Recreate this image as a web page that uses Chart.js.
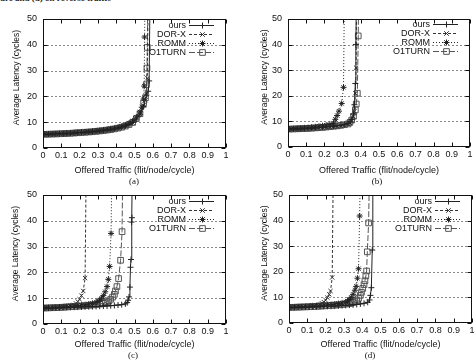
<!DOCTYPE html>
<html><head><meta charset="utf-8">
<script src="https://cdn.jsdelivr.net/npm/chart.js@4"></script>
<style>
html,body{margin:0;padding:0;background:#fff;width:474px;height:362px;overflow:hidden;position:relative}
.p{position:absolute;width:240px;height:181px}
.cap{position:absolute;font:9px 'Liberation Serif','DejaVu Serif',serif;color:#111;transform:translate(-50%,-50%);white-space:nowrap}
</style></head><body>
<div style="position:absolute;left:0;top:-7px;font:bold 9px 'Liberation Serif',serif;color:#222;white-space:nowrap">ure and (d) on reverse traffic</div>
<div class="p" style="left:0;top:0"><canvas id="ca"></canvas></div>
<div class="p" style="left:237px;top:0"><canvas id="cb"></canvas></div>
<div class="p" style="left:0;top:181px"><canvas id="cc"></canvas></div>
<div class="p" style="left:237px;top:181px"><canvas id="cd"></canvas></div>
<div class="cap" style="left:134px;top:181px">(a)</div>
<div class="cap" style="left:377px;top:181px">(b)</div>
<div class="cap" style="left:133px;top:355px">(c)</div>
<div class="cap" style="left:370px;top:355px">(d)</div>
<script>
const seriesNames = ['ours', 'DOR-X', 'ROMM', 'O1TURN'];
const xTickLabels = ['0','0.1','0.2','0.3','0.4','0.5','0.6','0.7','0.8','0.9','1'];
const yTickLabels = ['0','10','20','30','40','50'];
const xAxisTitle = 'Offered Traffic (flit/node/cycle)';
const yAxisTitle = 'Average Latency (cycles)';

// ---- panel (a)
const aOursX = [0.01,0.03,0.05,0.07,0.09,0.11,0.13,0.15,0.17,0.19,0.21,0.23,0.25,0.27,0.29,0.31,0.33,0.35,0.37,0.39,0.41,0.43,0.45,0.47,0.49,0.51,0.53,0.55,0.565,0.575,0.58,0.585];
const aOursY = [5.3,5.35,5.4,5.45,5.5,5.55,5.6,5.7,5.8,5.9,6.0,6.1,6.2,6.3,6.45,6.6,6.75,6.95,7.15,7.4,7.7,8.05,8.5,9.1,9.9,11.2,12.9,16.0,20.5,22.0,26.0,60];
const aDorX = [0.01,0.03,0.05,0.07,0.09,0.11,0.13,0.15,0.17,0.19,0.21,0.23,0.25,0.27,0.29,0.31,0.33,0.35,0.37,0.39,0.41,0.43,0.45,0.47,0.49,0.51,0.53,0.55,0.56,0.565,0.57,0.575];
const aDorY = [5.25,5.3,5.35,5.4,5.45,5.5,5.55,5.65,5.75,5.85,5.95,6.05,6.15,6.25,6.4,6.55,6.7,6.9,7.1,7.35,7.65,8.0,8.45,9.05,9.85,11.3,13.1,16.5,18.5,21.0,27.0,60];
const aRommX = [0.01,0.03,0.05,0.07,0.09,0.11,0.13,0.15,0.17,0.19,0.21,0.23,0.25,0.27,0.29,0.31,0.33,0.35,0.37,0.39,0.41,0.43,0.45,0.47,0.49,0.51,0.53,0.54,0.55,0.553,0.555,0.558];
const aRommY = [5.4,5.45,5.5,5.55,5.6,5.65,5.75,5.85,5.95,6.05,6.15,6.25,6.35,6.5,6.65,6.8,7.0,7.2,7.45,7.7,8.0,8.4,8.9,9.6,10.5,12.0,14.0,15.8,19.0,24.0,43.0,60];
const aO1X = [0.01,0.03,0.05,0.07,0.09,0.11,0.13,0.15,0.17,0.19,0.21,0.23,0.25,0.27,0.29,0.31,0.33,0.35,0.37,0.39,0.41,0.43,0.45,0.47,0.49,0.51,0.53,0.55,0.56,0.565,0.568,0.57,0.573];
const aO1Y = [5.3,5.35,5.4,5.45,5.5,5.55,5.65,5.7,5.8,5.9,6.0,6.1,6.2,6.3,6.45,6.6,6.75,6.95,7.15,7.4,7.7,8.05,8.5,9.1,9.9,11.4,13.3,17.5,19.5,24.5,31.0,39.0,60];

// ---- panel (b)
const bOursX = [0.01,0.03,0.05,0.07,0.09,0.11,0.13,0.15,0.17,0.19,0.21,0.23,0.25,0.27,0.29,0.31,0.33,0.34,0.35,0.36,0.365,0.37,0.373,0.376];
const bOursY = [7.0,7.05,7.1,7.15,7.2,7.3,7.4,7.5,7.6,7.7,7.85,8.0,8.15,8.3,8.5,8.8,9.2,9.8,10.8,12.8,16.5,24.8,40,60];
const bDorX = [0.01,0.03,0.05,0.07,0.09,0.11,0.13,0.15,0.17,0.19,0.21,0.23,0.25,0.27,0.29,0.31,0.33,0.34,0.35,0.36,0.365,0.37,0.374,0.377];
const bDorY = [6.9,6.95,7.0,7.05,7.1,7.2,7.3,7.4,7.5,7.6,7.7,7.8,7.95,8.1,8.3,8.55,8.9,9.4,10.2,11.8,14.0,21.0,31.0,60];
const bRommX = [0.01,0.03,0.05,0.07,0.09,0.11,0.13,0.15,0.17,0.19,0.21,0.23,0.25,0.26,0.27,0.28,0.295,0.305,0.31];
const bRommY = [7.1,7.2,7.3,7.4,7.5,7.6,7.75,7.9,8.1,8.3,8.55,8.85,9.3,10.8,12.3,14.0,17.0,23.3,60];
const bO1X = [0.01,0.03,0.05,0.07,0.09,0.11,0.13,0.15,0.17,0.19,0.21,0.23,0.25,0.27,0.29,0.31,0.33,0.34,0.35,0.36,0.37,0.375,0.381,0.386,0.388];
const bO1Y = [7.0,7.05,7.1,7.15,7.2,7.25,7.35,7.45,7.55,7.65,7.8,7.95,8.1,8.25,8.45,8.7,9.0,9.6,10.5,12.0,14.5,16.8,21.0,43.4,60];

// ---- panel (c)
const cOursX = [0.01,0.03,0.05,0.07,0.09,0.11,0.13,0.15,0.17,0.19,0.21,0.23,0.25,0.27,0.29,0.31,0.33,0.35,0.37,0.39,0.41,0.43,0.45,0.46,0.465,0.47,0.475,0.478,0.481,0.484,0.486,0.488];
const cOursY = [6.1,6.15,6.2,6.25,6.3,6.35,6.4,6.45,6.5,6.55,6.6,6.65,6.7,6.75,6.8,6.9,6.95,7.0,7.1,7.2,7.35,7.5,7.8,8.3,9.2,10.5,14.3,22.0,25.0,39.5,41.2,60];
const cDorX = [0.01,0.03,0.05,0.07,0.09,0.11,0.13,0.15,0.17,0.18,0.19,0.2,0.21,0.22,0.23,0.236];
const cDorY = [6.2,6.3,6.4,6.5,6.6,6.75,6.9,7.1,7.4,8.0,8.7,9.6,11.0,12.8,17.8,60];
const cRommX = [0.01,0.03,0.05,0.07,0.09,0.11,0.13,0.15,0.17,0.19,0.21,0.23,0.25,0.27,0.29,0.30,0.31,0.32,0.33,0.34,0.35,0.357,0.364,0.372,0.376];
const cRommY = [6.3,6.4,6.45,6.5,6.6,6.7,6.8,6.9,7.0,7.15,7.3,7.5,7.75,8.0,8.4,8.8,9.3,10.0,11.0,12.5,14.5,17.3,22.3,35.1,60];
const cO1X = [0.01,0.03,0.05,0.07,0.09,0.11,0.13,0.15,0.17,0.19,0.21,0.23,0.25,0.27,0.29,0.31,0.33,0.34,0.35,0.36,0.37,0.38,0.39,0.396,0.404,0.413,0.424,0.432,0.436];
const cO1Y = [6.2,6.25,6.3,6.35,6.4,6.5,6.6,6.7,6.8,6.9,7.0,7.1,7.25,7.4,7.55,7.75,8.0,8.3,8.6,9.0,9.6,10.4,11.5,12.8,14.5,17.6,24.7,35.8,60];

// ---- panel (d)
const dOursX = [0.01,0.03,0.05,0.07,0.09,0.11,0.13,0.15,0.17,0.19,0.21,0.23,0.25,0.27,0.29,0.31,0.33,0.35,0.37,0.39,0.41,0.43,0.44,0.445,0.45,0.455,0.458];
const dOursY = [6.0,6.05,6.1,6.15,6.2,6.25,6.3,6.35,6.4,6.45,6.5,6.55,6.6,6.7,6.8,6.9,7.0,7.1,7.25,7.45,7.7,8.1,9.0,10.8,13.8,28.5,60];
const dDorX = [0.01,0.03,0.05,0.07,0.09,0.11,0.13,0.15,0.17,0.18,0.19,0.2,0.21,0.22,0.227,0.236,0.242];
const dDorY = [6.2,6.3,6.4,6.5,6.6,6.7,6.85,7.0,7.25,7.7,8.2,8.9,9.9,11.2,12.5,17.8,60];
const dRommX = [0.01,0.03,0.05,0.07,0.09,0.11,0.13,0.15,0.17,0.19,0.21,0.23,0.25,0.27,0.29,0.31,0.32,0.33,0.34,0.35,0.36,0.367,0.374,0.38,0.386,0.39];
const dRommY = [6.2,6.3,6.4,6.45,6.5,6.6,6.7,6.8,6.9,7.0,7.1,7.25,7.4,7.6,7.85,8.2,8.6,9.2,10.0,11.2,12.8,14.3,17.5,21.2,41.8,60];
const dO1X = [0.01,0.03,0.05,0.07,0.09,0.11,0.13,0.15,0.17,0.19,0.21,0.23,0.25,0.27,0.29,0.31,0.33,0.34,0.35,0.36,0.37,0.38,0.39,0.396,0.403,0.41,0.415,0.42,0.424,0.428,0.435,0.44];
const dO1Y = [6.1,6.15,6.2,6.25,6.3,6.35,6.4,6.5,6.6,6.7,6.8,6.9,7.0,7.1,7.25,7.4,7.6,7.8,8.1,8.5,9.0,9.7,10.8,12.0,13.5,15.0,16.5,18.4,20.3,27.8,39.1,60];

const FONT = "'Liberation Sans', Arial, sans-serif";
const INK = '#111';
const seriesStyle = [
  {color:'#222', dash:[], point:'cross', r:3},
  {color:'#333', dash:[3,2], point:'crossRot', r:3},
  {color:'#222', dash:[1,2], point:'star', r:3},
  {color:'#555', dash:[6,2], point:'rect', r:4}
];

function pts(xs, ys){ return xs.map((x,i)=>({x:x, y:ys[i]})); }

function drawMarker(ctx, style, r, x, y){
  ctx.beginPath();
  if (style==='cross' || style==='star'){
    ctx.moveTo(x-r,y); ctx.lineTo(x+r,y); ctx.moveTo(x,y-r); ctx.lineTo(x,y+r);
  }
  if (style==='crossRot' || style==='star'){
    const d=r*0.75; ctx.moveTo(x-d,y-d); ctx.lineTo(x+d,y+d); ctx.moveTo(x-d,y+d); ctx.lineTo(x+d,y-d);
  }
  if (style==='rect'){
    const s=r*0.7071; ctx.rect(x-s,y-s,2*s,2*s);
  }
  ctx.stroke();
}

const gnuplotLook = {
  id:'gp',
  beforeDatasetsDraw(chart){
    const {ctx, chartArea:a, scales:{y}} = chart;
    ctx.save();
    ctx.strokeStyle='#8a8a8a'; ctx.lineWidth=1; ctx.setLineDash([2,2]);
    y.ticks.forEach(t=>{
      if (t.value<=y.min || t.value>=y.max) return;
      const py=Math.round(y.getPixelForValue(t.value))+0.5;
      ctx.beginPath(); ctx.moveTo(a.left,py); ctx.lineTo(a.right,py); ctx.stroke();
    });
    ctx.restore();
  },
  afterDraw(chart, args, opts){
    const {ctx, chartArea:a, scales:{x,y}} = chart;
    ctx.save();
    ctx.strokeStyle=INK; ctx.lineWidth=1; ctx.setLineDash([]);
    const L=Math.round(a.left)+0.5, R=Math.round(a.right)-0.5, T=Math.round(a.top)+0.5, B=Math.round(a.bottom)-0.5;
    ctx.strokeRect(L,T,R-L,B-T);
    ctx.beginPath();
    x.ticks.forEach(t=>{
      const px=Math.round(x.getPixelForValue(t.value))+0.5;
      ctx.moveTo(px,B); ctx.lineTo(px,B-4); ctx.moveTo(px,T); ctx.lineTo(px,T+4);
    });
    y.ticks.forEach(t=>{
      const py=Math.round(y.getPixelForValue(t.value))+0.5;
      ctx.moveTo(L,py); ctx.lineTo(L+4,py); ctx.moveTo(R,py); ctx.lineTo(R-4,py);
    });
    ctx.stroke();
    // y axis title (gnuplot places it slightly above the plot centre)
    ctx.fillStyle=INK;
    ctx.font = '8.5px ' + FONT;
    ctx.save();
    ctx.translate(opts.yTitleX, (a.top+a.bottom)/2 - 6);
    ctx.rotate(-Math.PI/2);
    ctx.textAlign='center'; ctx.textBaseline='middle';
    ctx.fillText(yAxisTitle, 0, 0);
    ctx.restore();
    // key
    ctx.font = '9px ' + FONT;
    ctx.textAlign='right'; ctx.textBaseline='middle';
    chart.data.datasets.forEach((ds,i)=>{
      const st=seriesStyle[i];
      const yy=Math.round(a.top+opts.keyTop+i*opts.keyDy)+0.5;
      ctx.fillText(ds.label, a.right-opts.textOff, yy);
      ctx.strokeStyle=st.color; ctx.setLineDash(st.dash);
      ctx.beginPath(); ctx.moveTo(a.right-opts.lineFrom,yy); ctx.lineTo(a.right-opts.lineTo,yy); ctx.stroke();
      ctx.setLineDash([]);
      drawMarker(ctx, st.point, st.r, Math.round(a.right-(opts.lineFrom+opts.lineTo)/2)+0.5, yy);
    });
    ctx.restore();
  }
};

function makeChart(id, series, lay){
  const datasets = series.map((s,i)=>({
    label: seriesNames[i],
    data: pts(s[0], s[1]),
    borderColor: seriesStyle[i].color,
    borderWidth: 1,
    borderDash: seriesStyle[i].dash,
    pointStyle: seriesStyle[i].point,
    pointRadius: seriesStyle[i].r,
    pointBorderColor: seriesStyle[i].color,
    pointBackgroundColor: 'rgba(0,0,0,0)',
    pointBorderWidth: 1,
    fill: false,
    tension: 0
  }));
  return new Chart(document.getElementById(id), {
    type: 'line',
    data: {datasets},
    plugins: [gnuplotLook],
    options: {
      responsive: true, maintainAspectRatio: false, animation: false, devicePixelRatio: 1,
      events: [],
      layout: {padding: {left: 0, top: lay.top, right: lay.right, bottom: 0}},
      plugins: {legend: {display: false}, tooltip: {enabled: false},
        gp: {keyTop: lay.keyTop, keyDy: 9.1, textOff: 40, lineFrom: 37, lineTo: 12, yTitleX: lay.ytx}},
      scales: {
        x: {type: 'linear', min: 0, max: 1,
          afterFit: (s)=>{ s.height = lay.xh; },
          grid: {display: false, drawTicks: false}, border: {display: false},
          ticks: {stepSize: 0.1, autoSkip: false, maxRotation: 0, padding: 2, color: INK,
            font: {family: FONT, size: 9}, callback: (v,i)=>xTickLabels[i]},
          title: {display: true, text: xAxisTitle, color: INK, font: {family: FONT, size: 9},
            padding: {top: 0, bottom: lay.xtb}}
        },
        y: {type: 'linear', min: 0, max: 50,
          afterFit: (s)=>{ s.width = lay.yw; },
          grid: {display: false, drawTicks: false}, border: {display: false},
          ticks: {stepSize: 10, padding: 6, color: INK,
            font: {family: FONT, size: 9}, callback: (v,i)=>yTickLabels[i]},
          title: {display: false}
        }
      }
    }
  });
}

makeChart('ca', [[aOursX,aOursY],[aDorX,aDorY],[aRommX,aRommY],[aO1X,aO1Y]],
  {top: 19, right: 14, yw: 43, xh: 33, xtb: 4.6, ytx: 17, keyTop: 6});
makeChart('cb', [[bOursX,bOursY],[bDorX,bDorY],[bRommX,bRommY],[bO1X,bO1Y]],
  {top: 19, right: 7, yw: 51, xh: 34, xtb: 4.6, ytx: 28, keyTop: 4.5});
makeChart('cc', [[cOursX,cOursY],[cDorX,cDorY],[cRommX,cRommY],[cO1X,cO1Y]],
  {top: 14, right: 14, yw: 43, xh: 38, xtb: 12, ytx: 16, keyTop: 6});
makeChart('cd', [[dOursX,dOursY],[dDorX,dDorY],[dRommX,dRommY],[dO1X,dO1Y]],
  {top: 14, right: 5, yw: 52, xh: 39, xtb: 12, ytx: 28, keyTop: 5.5});
</script>
</body></html>
